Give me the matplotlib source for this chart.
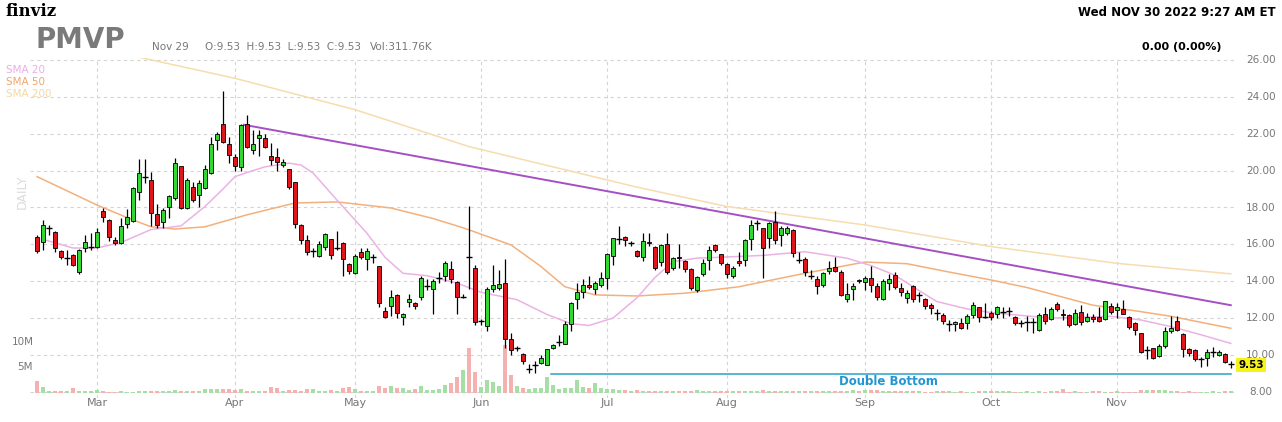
import matplotlib
matplotlib.use("Agg")
import matplotlib.pyplot as plt
import numpy as np

opens = [16.38,16.1,16.87,16.65,15.64,15.24,15.42,14.5,15.78,15.85,15.87,17.8,17.33,16.24,16.05,17.1,17.27,18.84,19.65,19.47,
17.64,17.2,18.05,18.5,20.27,17.96,19.1,18.7,19.05,19.87,21.64,22.5,21.45,20.75,20.2,22.5,21.13,21.78,21.75,20.8,
20.76,20.3,20.1,19.4,17.05,16.23,15.66,15.37,15.84,16.27,15.82,16.05,14.94,14.43,15.6,15.19,15.3,14.83,12.41,12.67,
13.28,12.05,12.87,12.8,13.13,13.75,13.57,14.2,14.29,14.65,13.98,13.17,15.35,14.7,11.82,11.58,13.57,13.62,13.9,10.86,
10.36,10.07,9.24,9.44,9.57,9.48,10.38,10.68,10.61,11.7,13.04,13.39,13.77,13.57,13.8,14.2,15.37,16.27,16.38,16.05,
15.64,15.3,16.14,15.84,15.06,16.0,14.7,15.33,15.1,14.65,13.53,14.4,15.15,15.96,15.48,14.92,14.29,15.1,15.15,16.27,
17.13,16.86,16.36,17.19,16.5,16.63,16.8,15.17,15.22,14.29,14.1,13.8,14.54,14.79,14.49,13.06,13.57,14.07,13.96,14.16,
13.75,13.06,13.9,14.34,13.62,13.08,13.75,13.24,13.04,12.72,12.3,12.18,11.7,11.7,11.75,11.75,12.18,12.58,12.05,12.27,
12.25,12.34,12.4,12.04,11.71,11.77,11.77,11.35,12.25,11.95,12.79,12.25,12.16,11.68,12.31,11.86,12.04,12.04,11.95,12.67,
12.43,12.52,12.04,11.71,11.17,10.27,10.36,9.96,10.49,11.3,11.86,11.14,10.32,10.27,9.77,9.82,10.18,10.0,10.04,9.53]
closes = [15.65,17.05,16.87,15.78,15.33,15.24,14.9,15.7,16.1,15.85,16.65,17.5,16.42,16.05,17.0,17.5,19.05,19.87,19.65,17.7,
17.05,17.85,18.6,20.42,17.96,19.5,18.42,19.33,20.1,21.42,21.96,21.55,20.84,20.24,22.47,21.3,21.42,21.9,21.27,20.55,
20.47,20.45,19.1,17.1,16.23,15.57,15.66,16.0,16.54,15.4,15.82,15.19,14.56,15.39,15.3,15.66,15.3,12.81,12.04,13.12,
12.3,12.2,13.06,12.63,14.16,13.75,14.02,14.2,14.97,14.1,13.12,13.17,15.33,11.77,11.82,13.57,13.8,13.84,10.86,10.29,
10.36,9.65,9.24,9.44,9.84,10.32,10.56,10.68,11.7,12.81,13.39,13.8,13.68,13.89,14.2,15.48,16.32,16.27,16.23,16.05,
15.37,16.2,16.05,14.74,15.96,14.49,15.24,15.24,14.65,13.62,14.25,14.97,15.69,15.69,14.97,14.4,14.7,15.0,16.23,17.05,
17.13,15.78,17.13,16.23,16.86,16.9,15.55,15.17,14.5,14.29,13.75,14.43,14.7,14.56,13.24,13.33,13.75,14.0,14.16,13.8,
13.17,14.02,14.11,13.68,13.44,13.35,13.04,13.24,12.63,12.54,12.3,11.86,11.7,11.79,11.48,12.11,12.72,12.05,12.05,12.05,
12.61,12.34,12.4,11.71,11.71,11.77,11.77,12.16,11.84,12.52,12.52,12.16,11.62,12.29,11.77,12.04,11.93,11.86,12.92,12.31,
12.58,12.25,11.5,11.35,10.14,10.27,9.82,10.49,11.3,11.44,11.35,10.32,10.09,9.78,9.77,10.18,10.18,10.18,9.64,9.53]
highs = [16.5,17.3,17.05,16.7,15.7,15.7,15.45,15.75,16.5,16.6,16.9,17.95,17.35,16.4,17.4,17.9,19.1,20.6,20.6,19.9,
18.2,17.95,18.7,20.7,20.27,19.6,19.4,19.5,20.3,21.8,22.1,24.3,21.8,20.9,22.5,23.0,22.2,22.2,22.0,21.5,
21.2,20.6,20.1,19.4,17.1,16.5,15.8,16.2,16.6,16.3,16.7,16.1,15.0,15.5,15.8,15.8,15.5,14.85,12.6,13.5,
13.3,12.3,13.3,12.9,14.3,14.1,14.1,14.5,15.1,15.1,14.0,13.3,18.1,14.9,11.95,13.7,14.9,14.6,15.2,11.2,
10.5,10.1,9.5,9.7,10.0,10.35,10.6,11.1,11.85,12.85,13.9,14.1,14.3,14.0,14.5,15.55,16.35,17.0,16.45,16.2,
15.7,16.6,16.6,15.9,16.0,16.6,15.3,16.0,15.15,14.7,14.3,15.2,15.9,16.0,15.5,15.0,14.8,15.6,16.3,17.3,
17.3,16.9,17.2,17.8,17.0,17.0,16.85,15.6,15.3,14.6,14.3,14.5,15.1,15.3,14.6,13.9,13.9,14.1,14.3,14.8,
13.9,14.1,14.4,14.5,13.9,13.5,13.8,13.4,13.1,12.8,12.5,12.3,11.9,11.85,12.0,12.2,12.9,12.6,12.8,12.4,
12.65,12.6,12.6,12.1,11.9,12.1,12.0,12.3,12.6,12.6,12.85,12.5,12.2,12.5,12.7,12.3,12.2,12.6,12.95,12.8,
12.8,13.0,12.1,11.8,11.2,10.5,10.4,10.6,11.5,12.1,12.1,11.2,10.4,10.3,9.9,10.3,10.45,10.25,10.1,9.7]
lows = [15.55,15.7,16.5,15.6,15.2,14.9,14.8,14.4,15.6,15.7,15.8,17.2,16.2,15.95,16.0,16.9,17.2,18.4,19.3,17.0,
16.9,16.9,17.4,18.4,17.9,17.9,18.3,18.0,19.0,19.8,21.1,21.5,20.4,20.0,20.0,21.2,20.9,20.8,21.2,20.3,
20.0,20.2,19.0,16.9,16.0,15.4,15.3,15.3,15.7,15.2,15.7,14.3,14.4,14.4,15.2,14.6,15.0,12.6,12.0,12.1,
12.0,11.6,12.6,12.5,13.0,13.5,12.2,13.9,14.0,13.9,12.2,13.1,13.6,11.6,11.6,11.3,13.4,13.5,10.4,10.0,
10.2,9.5,9.05,9.0,9.5,9.45,10.3,10.5,10.6,11.3,12.5,13.1,13.6,13.3,13.7,13.6,14.9,16.0,15.9,15.9,
15.3,15.1,15.9,14.6,14.8,14.4,14.6,14.7,14.5,13.5,13.4,14.3,14.6,15.6,14.9,14.2,14.2,14.8,14.8,15.7,
16.8,14.2,15.8,16.0,15.9,16.5,15.3,15.0,14.3,14.1,13.3,13.7,14.4,14.5,13.2,12.9,13.0,13.9,13.5,13.4,
13.0,13.0,13.5,13.6,13.2,12.8,12.9,12.9,12.5,12.2,11.9,11.7,11.3,11.3,11.4,11.4,12.0,11.8,12.0,11.9,
12.0,12.0,12.1,11.6,11.5,11.3,11.2,11.3,11.7,11.9,12.4,11.9,11.5,11.6,11.6,11.8,11.8,11.8,11.9,12.2,
12.0,12.2,11.4,11.1,10.1,9.8,9.8,9.9,10.4,11.2,11.3,9.9,9.95,9.7,9.35,9.4,9.9,9.95,9.55,9.3]
volumes_m = [2.4,1.2,0.3,0.3,0.4,0.3,0.9,0.3,0.3,0.4,0.6,0.3,0.2,0.2,0.3,0.2,0.2,0.4,0.3,0.3,
0.3,0.3,0.3,0.5,0.3,0.3,0.3,0.4,0.7,0.7,0.7,0.8,0.8,0.5,0.7,0.4,0.3,0.3,0.4,1.2,
0.9,0.3,0.5,0.5,0.4,0.7,0.8,0.4,0.4,0.5,0.4,1.0,1.2,0.8,0.4,0.3,0.3,1.4,1.0,1.4,
1.0,0.9,0.5,0.8,1.3,0.6,0.6,0.8,1.5,1.9,3.2,4.5,9.0,4.2,1.2,2.6,2.2,1.4,9.5,3.6,
1.4,1.0,0.8,1.0,1.0,3.2,1.6,0.8,1.0,0.9,2.5,1.2,1.0,2.0,1.0,0.7,0.7,0.5,0.5,0.4,
0.5,0.3,0.4,0.3,0.3,0.4,0.3,0.3,0.3,0.3,0.5,0.4,0.3,0.3,0.3,0.4,0.3,0.3,0.4,0.4,
0.3,0.5,0.4,0.3,0.3,0.4,0.3,0.3,0.3,0.3,0.4,0.3,0.3,0.3,0.4,0.3,0.5,0.4,0.6,0.5,
0.6,0.4,0.3,0.3,0.3,0.3,0.3,0.3,0.2,0.2,0.3,0.3,0.3,0.2,0.3,0.2,0.2,0.3,0.4,0.3,
0.3,0.3,0.3,0.2,0.2,0.3,0.2,0.3,0.2,0.3,0.4,0.7,0.2,0.3,0.2,0.2,0.3,0.3,0.2,0.2,
0.3,0.2,0.2,0.2,0.5,0.6,0.6,0.6,0.5,0.4,0.3,0.2,0.3,0.2,0.2,0.2,0.3,0.2,0.4,0.3]

sma20_idx = [1,6,10,14,19,24,28,31,33,36,38,42,44,46,50,55,58,61,65,70,74,80,85,89,92,96,100,103,106,110,114,121,128,135,139,143,147,150,155,159,169,179,184,189,194,199]
sma20_val = [16.27,15.8,15.8,16.1,16.8,17.0,18.05,19.0,19.67,20.0,20.2,20.4,20.3,19.87,18.4,16.6,15.3,14.43,14.3,13.9,13.4,13.0,12.2,11.7,11.6,12.0,13.1,14.2,15.06,15.25,15.3,15.4,15.6,15.25,14.85,14.33,13.5,12.9,12.5,12.3,12.0,12.1,11.9,11.54,11.1,10.63]
sma50_idx = [0,5,10,15,19,23,28,35,43,50,59,66,71,79,84,88,93,100,108,117,128,138,145,152,159,165,176,183,189,199]
sma50_val = [19.67,18.9,18.13,17.45,16.95,16.83,16.95,17.6,18.24,18.3,17.97,17.4,16.9,15.97,14.8,13.7,13.26,13.2,13.35,13.7,14.43,15.04,14.95,14.5,14.07,13.66,12.7,12.4,12.1,11.45]
sma200_idx = [12,19,33,53,72,100,115,138,159,180,199]
sma200_val = [26.5,26.0,25.0,23.3,21.3,19.1,18.05,17.05,15.88,14.97,14.4]
trend_idx = [34.5,199]
trend_val = [22.48,12.7]
support_idx = [85.7,199]
support_val = [8.97,8.97]
month_labels = ["Mar","Apr","May","Jun","Jul","Aug","Sep","Oct","Nov"]
month_idx = [10,33,53,74,95,115,138,159,180]
price_ticks = [8,10,12,14,16,18,20,22,24,26]

W, H = 1282, 422
fig = plt.figure(figsize=(W/100, H/100), dpi=100)
left, right, top, bot = 30, 1235, 58, 398
ax = fig.add_axes([left/W, 1-bot/H, (right-left)/W, (bot-top)/H])
ax.set_xlim(-1.17, 199.7)
ax.set_ylim(7.67, 26.1)
for s in ax.spines.values():
    s.set_visible(False)
ax.set_xticks([]); ax.set_yticks([])
for p in price_ticks:
    ax.axhline(p, color="#d4d4d4", lw=0.8, ls=(0, (3, 3)), zorder=0)
for m in month_idx:
    ax.axvline(m, color="#d4d4d4", lw=0.8, ls=(0, (3, 3)), zorder=0)

GREEN, RED = "#33d633", "#e0161d"
n = len(opens)
x = np.arange(n)
o = np.array(opens); c = np.array(closes)
up = c >= o
vscale = 1.36 / 5.0
vol = np.array(volumes_m)
ax.bar(x, vol*vscale, bottom=7.95, width=0.75,
       color=np.where(up, "#a6dea6", "#f5b0b0"), zorder=1)

ax.plot(sma200_idx, sma200_val, color="#f6dcae", lw=1.1, zorder=2)
ax.plot(sma50_idx, sma50_val, color="#f2b07c", lw=1.1, zorder=2)
ax.plot(sma20_idx, sma20_val, color="#ebb2e4", lw=1.1, zorder=2)
ax.plot(trend_idx, trend_val, color="#a54fc4", lw=1.4, zorder=2)
ax.plot(support_idx, support_val, color="#2aa3c9", lw=1.1, zorder=2)
ax.text(142, 8.55, "Double Bottom", color="#2196d3", fontsize=8.5, fontweight="bold", ha="center", va="center", zorder=5)

ax.vlines(x, lows, highs, color="black", lw=0.9, zorder=3)
body = np.abs(c - o)
doji = body < 0.03
bl = np.minimum(o, c)
ax.bar(x[~doji], body[~doji], bottom=bl[~doji], width=0.72,
       color=np.where(up[~doji], GREEN, RED), edgecolor="black", lw=0.6, zorder=4)
ax.hlines(c[doji], x[doji]-0.45, x[doji]+0.45, color="black", lw=1.0, zorder=4)

def px(xp, yp):
    return xp/W, 1-yp/H
for lab, m in zip(month_labels, month_idx):
    ax.text(m, 7.67, lab, transform=ax.transData, ha="center", va="top", fontsize=8, color="#777777")
for p in price_ticks:
    fig.text(*px(1261, 60 + (26-p)*18.44), f"{p:.2f}", ha="center", va="center", fontsize=7.5, color="#777777")
fig.text(*px(1251, 365), "9.53", ha="center", va="center", fontsize=7.5, fontweight="bold",
         bbox=dict(boxstyle="square,pad=0.2", fc="#f7f21a", ec="none"))
fig.text(*px(6, 12), "finviz", fontsize=12, fontweight="bold", family="DejaVu Serif", va="center")
fig.text(*px(36, 40), "PMVP", fontsize=20, fontweight="bold", color="#7a7a7a", va="center")
fig.text(*px(152, 47), "Nov 29", fontsize=7.5, color="#777777", va="center")
fig.text(*px(205, 47), "O:9.53  H:9.53  L:9.53  C:9.53", fontsize=7.5, color="#777777", va="center")
fig.text(*px(370, 47), "Vol:311.76K", fontsize=7.5, color="#777777", va="center")
fig.text(*px(1276, 12), "Wed NOV 30 2022 9:27 AM ET", fontsize=8.5, fontweight="bold", ha="right", va="center")
fig.text(*px(1222, 47), "0.00 (0.00%)", fontsize=8, fontweight="bold", ha="right", va="center")
fig.text(*px(6, 70), "SMA 20", fontsize=7.5, color="#ebaee4", va="center")
fig.text(*px(6, 82), "SMA 50", fontsize=7.5, color="#f2a66c", va="center")
fig.text(*px(6, 94), "SMA 200", fontsize=7.5, color="#f3d8a8", va="center")
fig.text(*px(22, 192), "DAILY", fontsize=9, color="#dcdcdc", rotation=90, ha="center", va="center")
fig.text(*px(12, 342), "10M", fontsize=7.5, color="#777777", va="center")
fig.text(*px(17, 367), "5M", fontsize=7.5, color="#777777", va="center")
fig.savefig("out.png", dpi=100)
